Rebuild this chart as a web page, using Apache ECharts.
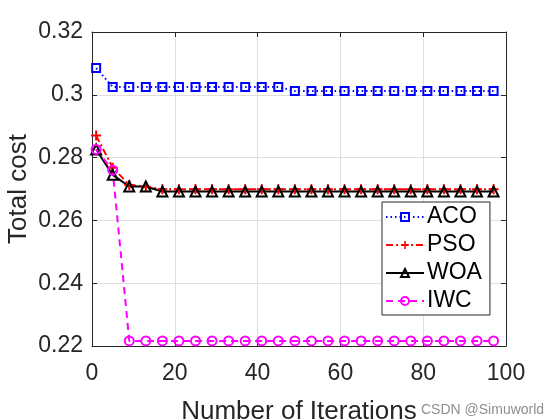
<!DOCTYPE html>
<html>
<head>
<meta charset="utf-8">
<script src="https://cdn.jsdelivr.net/npm/echarts@6/dist/echarts.min.js"></script>
<style>
  html, body { margin: 0; padding: 0; background: #fff; }
  #chart { width: 560px; height: 420px; }
</style>
</head>
<body>
<div id="chart"></div>
<script>
// iterations where markers are drawn
var iterations = [1, 5, 9, 13, 17, 21, 25, 29, 33, 37, 41, 45, 49, 53, 57, 61, 65, 69, 73, 77, 81, 85, 89, 93, 97];

var aco = [0.3085, 0.3025, 0.3025, 0.3025, 0.3025, 0.3025, 0.3025, 0.3025, 0.3025, 0.3025, 0.3025, 0.3025,
  0.3012, 0.3012, 0.3012, 0.3012, 0.3012, 0.3012, 0.3012, 0.3012, 0.3012, 0.3012, 0.3012, 0.3012, 0.3012];
var pso = [0.2870, 0.2768, 0.2713, 0.2707, 0.2699, 0.2699, 0.2699, 0.2699, 0.2699, 0.2699, 0.2699, 0.2699,
  0.2699, 0.2699, 0.2699, 0.2699, 0.2699, 0.2699, 0.2699, 0.2699, 0.2699, 0.2699, 0.2699, 0.2699, 0.2699];
var woa = [0.2826, 0.2745, 0.2708, 0.2708, 0.2692, 0.2692, 0.2692, 0.2692, 0.2692, 0.2692, 0.2692, 0.2692,
  0.2692, 0.2692, 0.2692, 0.2692, 0.2692, 0.2692, 0.2692, 0.2692, 0.2692, 0.2692, 0.2692, 0.2692, 0.2692];
var iwc = [0.2826, 0.2760, 0.2216, 0.2216, 0.2216, 0.2216, 0.2216, 0.2216, 0.2216, 0.2216, 0.2216, 0.2216,
  0.2216, 0.2216, 0.2216, 0.2216, 0.2216, 0.2216, 0.2216, 0.2216, 0.2216, 0.2216, 0.2216, 0.2216, 0.2216];

var names = ['ACO', 'PSO', 'WOA', 'IWC'];
var xTicks = { min: 0, max: 100, interval: 20 };
var yTicks = { min: 0.22, max: 0.32, interval: 0.02 };

var font = '"Liberation Sans", Arial, Helvetica, sans-serif';
var axisColor = '#262626';
var plusPath = 'path://M4,0 L6,0 L6,4 L10,4 L10,6 L6,6 L6,10 L4,10 L4,6 L0,6 L0,4 L4,4 Z';

function pairs(values) {
  return values.map(function (v, i) { return [iterations[i], v]; });
}

function lineSeries(name, values, color, type, symbol, size, filled) {
  return {
    name: name,
    type: 'line',
    data: pairs(values),
    symbol: symbol,
    symbolSize: size,
    showAllSymbol: true,
    z: 3,
    lineStyle: { color: color, width: 2, type: type },
    itemStyle: filled
      ? { color: color, borderWidth: 0 }
      : { color: 'rgba(255,255,255,0)', borderColor: color, borderWidth: 2 },
    emphasis: { disabled: true },
    animation: false
  };
}

var chart = echarts.init(document.getElementById('chart'));
chart.setOption({
  animation: false,
  grid: { left: 92, right: 54, top: 32, bottom: 74, outerBoundsMode: 'none', containLabel: false },
  legend: {
    orient: 'vertical',
    left: 382,
    top: 202,
    data: names,
    itemWidth: 38,
    itemHeight: 10,
    itemGap: 4,
    padding: [3, 8, 2, 3],
    backgroundColor: '#fff',
    borderColor: axisColor,
    borderWidth: 1,
    textStyle: { fontSize: 23, lineHeight: 24, color: '#000', fontFamily: font, padding: [0, 0, 0, -2] }
  },
  xAxis: [{
    type: 'value',
    min: xTicks.min, max: xTicks.max, interval: xTicks.interval,
    name: 'Number of Iterations',
    nameLocation: 'middle',
    nameGap: 53,
    nameMoveOverlap: false,
    nameTextStyle: { fontSize: 26, color: axisColor, fontFamily: font },
    axisLine: { show: true, onZero: false, lineStyle: { color: axisColor, width: 1 } },
    axisTick: { show: true, inside: true, length: 5, lineStyle: { color: axisColor } },
    axisLabel: { fontSize: 23, color: axisColor, fontFamily: font, margin: 16 },
    splitLine: { show: true, lineStyle: { color: '#dedede', width: 1 } }
  }, {
    type: 'value', position: 'top',
    min: xTicks.min, max: xTicks.max, interval: xTicks.interval,
    axisLine: { show: true, onZero: false, lineStyle: { color: axisColor, width: 1 } },
    axisTick: { show: true, inside: true, length: 5, lineStyle: { color: axisColor } },
    axisLabel: { show: false },
    splitLine: { show: false }
  }],
  yAxis: [{
    type: 'value',
    min: yTicks.min, max: yTicks.max, interval: yTicks.interval,
    name: 'Total cost',
    nameLocation: 'middle',
    nameGap: 60,
    nameMoveOverlap: false,
    nameTextStyle: { fontSize: 26, color: axisColor, fontFamily: font },
    axisLine: { show: true, onZero: false, lineStyle: { color: axisColor, width: 1 } },
    axisTick: { show: true, inside: true, length: 5, lineStyle: { color: axisColor } },
    axisLabel: { fontSize: 23, color: axisColor, fontFamily: font, margin: 9 },
    splitLine: { show: true, lineStyle: { color: '#dedede', width: 1 } }
  }, {
    type: 'value', position: 'right',
    min: yTicks.min, max: yTicks.max, interval: yTicks.interval,
    axisLine: { show: true, onZero: false, lineStyle: { color: axisColor, width: 1 } },
    axisTick: { show: true, inside: true, length: 5, lineStyle: { color: axisColor } },
    axisLabel: { show: false },
    splitLine: { show: false }
  }],
  graphic: [{
    type: 'text',
    left: 421,
    top: 403,
    style: { text: 'CSDN @Simuworld', fontSize: 14, fill: '#8f8f8f', fontFamily: font },
    z: 10
  }],
  series: [
    lineSeries('ACO', aco, '#0000ff', [1.5, 3], 'rect', 8, false),
    lineSeries('PSO', pso, '#ff0000', [7, 3, 2, 3], plusPath, 10, true),
    lineSeries('WOA', woa, '#000000', 'solid', 'triangle', 10, false),
    lineSeries('IWC', iwc, '#ff00ff', [7, 5], 'circle', 9, false)
  ]
});
</script>
</body>
</html>
